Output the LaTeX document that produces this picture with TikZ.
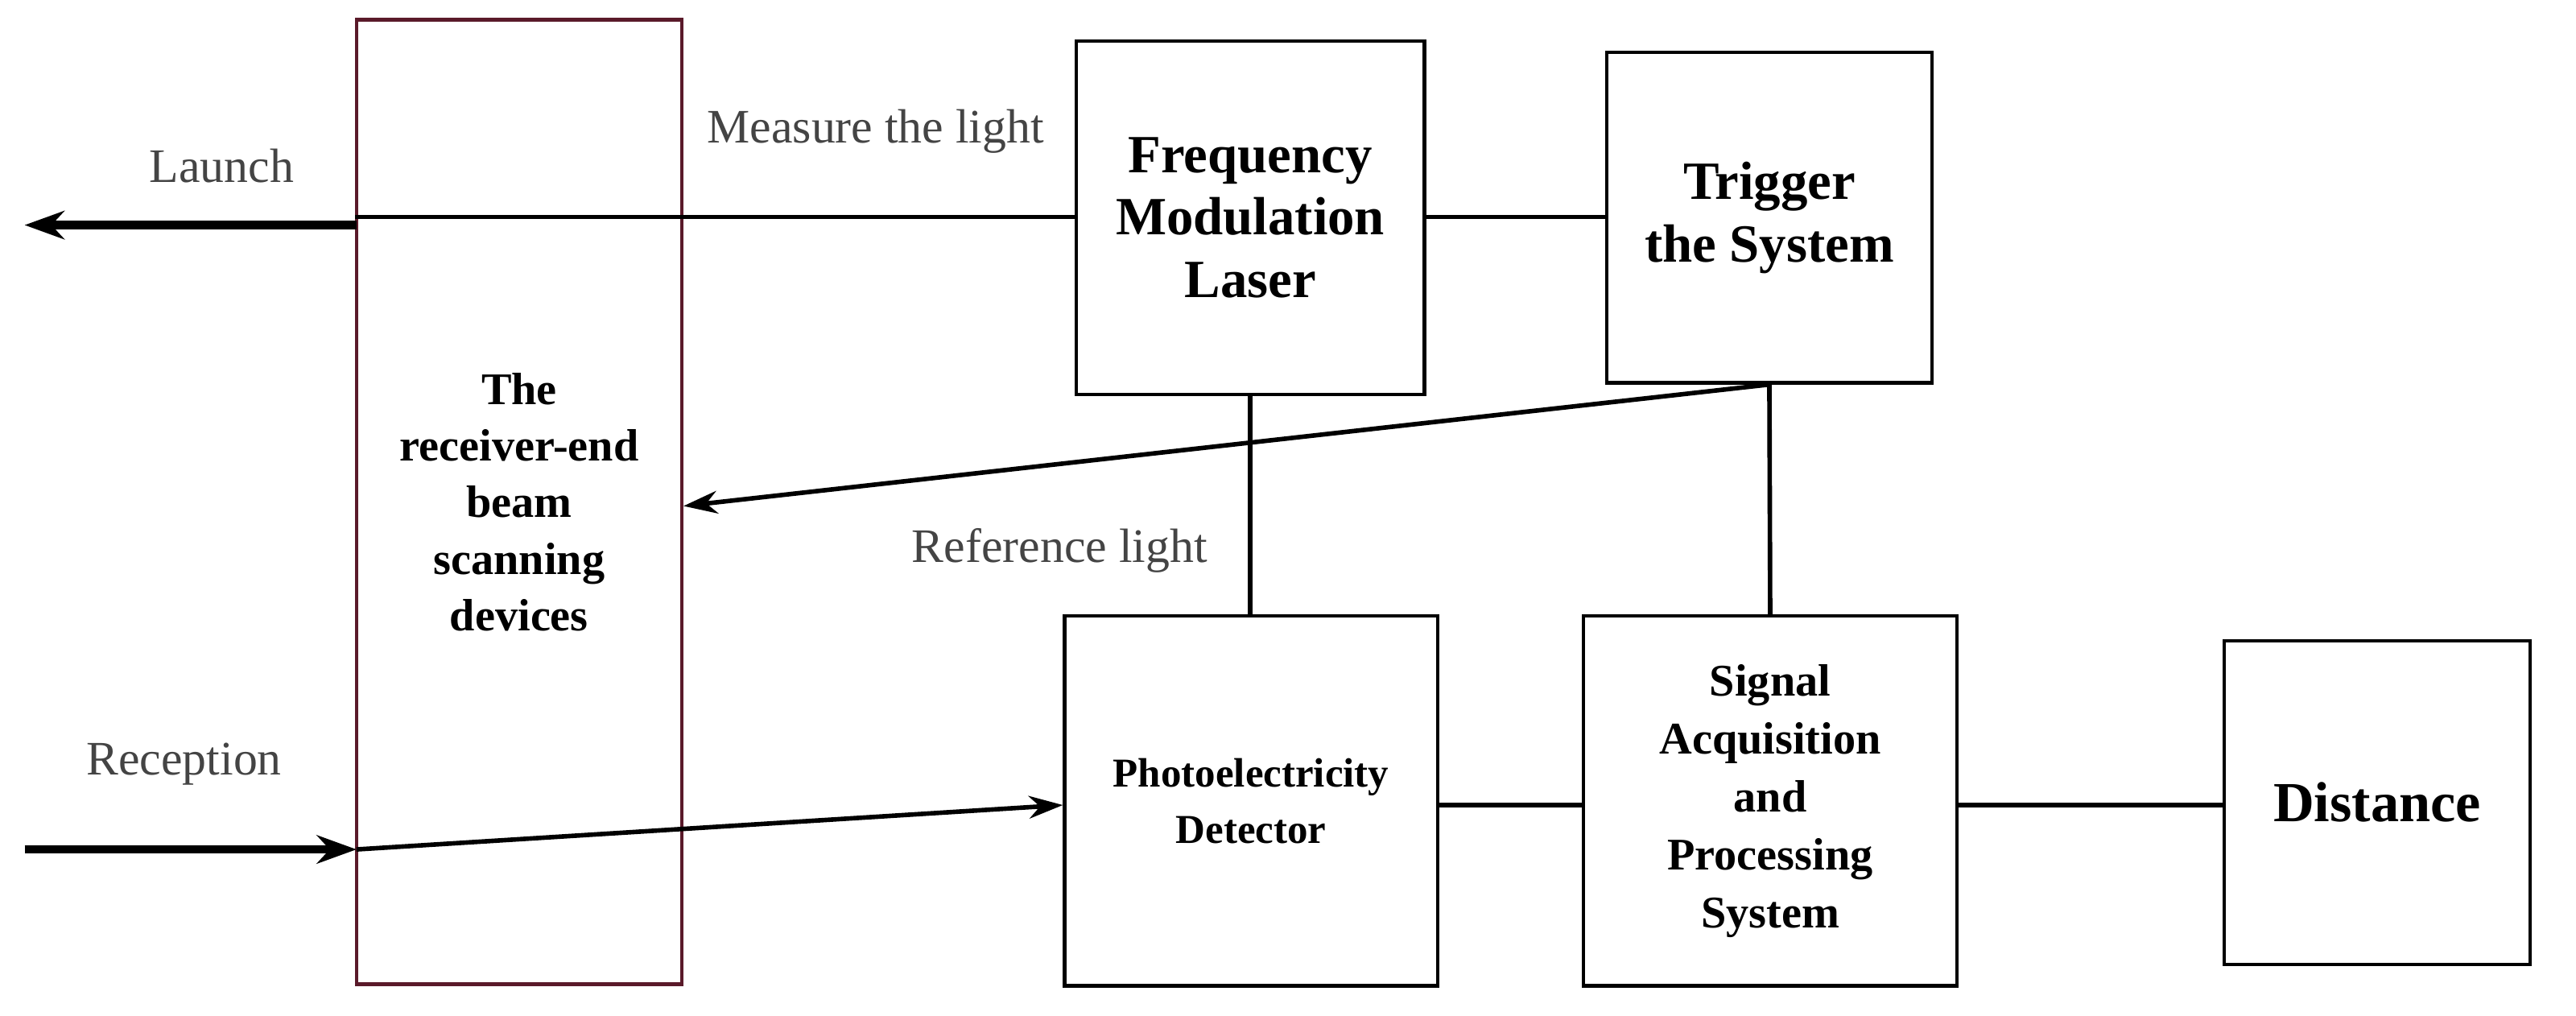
\documentclass[tikz,border=0pt]{standalone}
\usepackage{fontspec}
\setmainfont{Liberation Serif}
\usetikzlibrary{arrows.meta}
\definecolor{boxred}{HTML}{5A1A2A}
\definecolor{lab}{HTML}{444444}
\begin{document}
\begin{tikzpicture}[x=0.0204cm,y=-0.0204cm,
  box/.style={draw=black,line width=1.2pt,inner sep=0pt,align=center,font=\bfseries},
  ln/.style={line width=1.6pt},
  thk/.style={line width=3pt,-{Stealth[length=14pt,width=10pt]}},
  arr/.style={line width=1.6pt,-{Stealth[length=12pt,width=8pt]}},
  lbl/.style={text=lab,font=\fontsize{17}{20}\selectfont}]
\useasboundingbox (0,0) rectangle (1568,618);
\node[box,draw=boxred,minimum width=198*0.0204cm,minimum height=587*0.0204cm,font=\bfseries\fontsize{16}{20}\selectfont] (scan) at (316,305.5) {The\\receiver-end\\beam\\scanning\\devices};
\node[box,minimum width=212*0.0204cm,minimum height=215*0.0204cm,font=\bfseries\fontsize{19}{22}\selectfont] (laser) at (761,132.5) {Frequency\\Modulation\\Laser};
\node[box,minimum width=198*0.0204cm,minimum height=201*0.0204cm,font=\bfseries\fontsize{19}{22}\selectfont] (trig) at (1077,132.5) {Trigger\\the System};
\node[box,minimum width=227*0.0204cm,minimum height=225*0.0204cm,font=\bfseries\fontsize{14.5}{20}\selectfont] (det) at (761.5,487.5) {Photoelectricity\\Detector};
\node[box,minimum width=227*0.0204cm,minimum height=225*0.0204cm,font=\bfseries\fontsize{16}{20.5}\selectfont] (sig) at (1077.5,487.5) {Signal\\Acquisition\\and\\Processing\\System};
\node[box,minimum width=186*0.0204cm,minimum height=197*0.0204cm,font=\bfseries\fontsize{20}{24}\selectfont] (dist) at (1447,488.5) {Distance};
\coordinate (launchend) at (15,137);
\coordinate (recstart) at (15,517);
\coordinate (scanL) at (217,137);
\coordinate (scanR) at (217,517);
\draw[ln] (laser.west |- 0,132) -- (scan.west |- 0,132);
\draw[thk] (scanL) -- (launchend);
\draw[ln] (laser.east |- 0,132) -- (trig.west |- 0,132);
\draw[ln] (laser.south) -- (laser.south |- det.north);
\draw[ln] (trig.south) -- (sig.north);
\draw[arr] (trig.south) -- (scan.east |- 0,308);
\draw[thk] (recstart) -- (scanR);
\draw[arr] (scanR) -- (det.west |- 0,490);
\draw[ln] (det.east |- 0,490) -- (sig.west |- 0,490);
\draw[ln] (sig.east |- 0,490) -- (dist.west |- 0,490);
\node[lbl] (l1) at (135,101) {Launch};
\node[lbl] (l2) at (533,80) {Measure the light};
\node[lbl] (l3) at (645,335) {Reference light};
\node[lbl] (l4) at (112,465) {Reception};
\end{tikzpicture}
\end{document}
